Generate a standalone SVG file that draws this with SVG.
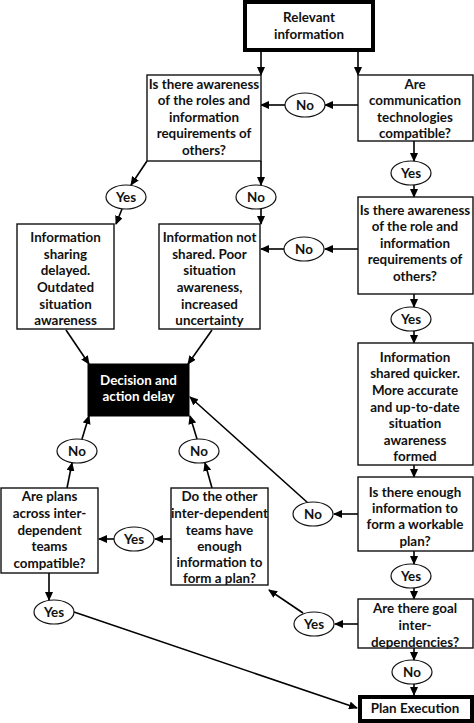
<svg xmlns="http://www.w3.org/2000/svg" width="474" height="723" viewBox="0 0 474 723">
<style>
.b{fill:#fff;stroke:#111;stroke-width:1.4}
.tb{fill:#fff;stroke:#000;stroke-width:4}
.e{fill:#fff;stroke:#111;stroke-width:1.2}
text{font-family:Lato,"Liberation Sans",sans-serif;font-weight:bold;font-size:13.4px;fill:#111;text-anchor:middle}
.w{fill:#fff}
.c line{stroke:#000;stroke-width:1.6;marker-end:url(#ah)}
</style>
<defs>
<marker id="ah" markerUnits="userSpaceOnUse" markerWidth="9" markerHeight="8" refX="8" refY="4" orient="auto">
<path d="M0,0 L9,4 L0,8 Z" fill="#000"/>
</marker>
</defs>
<rect width="474" height="723" fill="#fff"/>
<g class="c" id="connectors">
<line x1="261" y1="51" x2="261" y2="75"/>
<line x1="358" y1="51" x2="358" y2="75"/>
<line x1="358" y1="105" x2="325" y2="105"/>
<line x1="285" y1="105" x2="261" y2="105"/>
<line x1="414" y1="141" x2="414" y2="161"/>
<line x1="414" y1="185" x2="414" y2="197"/>
<line x1="147" y1="161" x2="131" y2="185"/>
<line x1="261" y1="161" x2="261" y2="185"/>
<line x1="122" y1="209" x2="116" y2="224"/>
<line x1="261" y1="209" x2="261" y2="224"/>
<line x1="358" y1="249" x2="325" y2="249"/>
<line x1="284" y1="249" x2="261" y2="249"/>
<line x1="414" y1="294" x2="414" y2="307"/>
<line x1="414" y1="331" x2="414" y2="343"/>
<line x1="66" y1="330" x2="89" y2="364"/>
<line x1="212" y1="330" x2="188" y2="364"/>
<line x1="82" y1="439" x2="89" y2="416"/>
<line x1="197" y1="439" x2="190" y2="416"/>
<line x1="308" y1="503" x2="190" y2="397"/>
<line x1="414" y1="465" x2="414" y2="477"/>
<line x1="358" y1="514" x2="334" y2="514"/>
<line x1="414" y1="551" x2="414" y2="564"/>
<line x1="414" y1="588" x2="414" y2="599"/>
<line x1="358" y1="624" x2="335" y2="624"/>
<line x1="303" y1="613" x2="269" y2="590"/>
<line x1="414" y1="648" x2="414" y2="660"/>
<line x1="414" y1="684" x2="414" y2="695"/>
<line x1="212" y1="488" x2="205" y2="463"/>
<line x1="67" y1="488" x2="72" y2="463"/>
<line x1="171" y1="539" x2="155" y2="539"/>
<line x1="114" y1="539" x2="99" y2="539"/>
<line x1="49" y1="573" x2="49" y2="600"/>
<line x1="74" y1="612" x2="357" y2="708"/>
</g>
<g id="n_relevant"><rect class="tb" x="245" y="2" width="128" height="48"/><text x="309" y="22">Relevant</text><text x="309" y="39">information</text></g>
<g id="n_aware1"><rect class="b" x="147" y="75" width="114" height="86"/><text x="204" y="89">Is there awareness</text><text x="204" y="105">of the roles and</text><text x="204" y="122">information</text><text x="204" y="138">requirements of</text><text x="204" y="155">others?</text></g>
<g id="n_comm"><rect class="b" x="358" y="75" width="115" height="66"/><text x="415" y="89">Are</text><text x="415" y="105">communication</text><text x="415" y="122">technologies</text><text x="415" y="138">compatible?</text></g>
<g id="e_no1"><ellipse class="e" cx="305" cy="105" rx="20" ry="12"/><text x="305" y="110">No</text></g>
<g id="e_yes1"><ellipse class="e" cx="411" cy="173" rx="20" ry="12"/><text x="411" y="178">Yes</text></g>
<g id="e_yes_l"><ellipse class="e" cx="126" cy="197" rx="20" ry="12"/><text x="126" y="202">Yes</text></g>
<g id="e_no_m"><ellipse class="e" cx="256" cy="197" rx="20" ry="12"/><text x="256" y="202">No</text></g>
<g id="n_aware2"><rect class="b" x="358" y="197" width="115" height="97"/><text x="415" y="215">Is there awareness</text><text x="415" y="231">of the role and</text><text x="415" y="248">information</text><text x="415" y="264">requirements of</text><text x="415" y="281">others?</text></g>
<g id="n_delayed"><rect class="b" x="17" y="224" width="97" height="105"/><text x="65.5" y="242">Information</text><text x="65.5" y="259">sharing</text><text x="65.5" y="275">delayed.</text><text x="65.5" y="292">Outdated</text><text x="65.5" y="309">situation</text><text x="65.5" y="325">awareness</text></g>
<g id="n_notshared"><rect class="b" x="159" y="224" width="101" height="105"/><text x="209.5" y="242">Information not</text><text x="209.5" y="259">shared. Poor</text><text x="209.5" y="275">situation</text><text x="209.5" y="292">awareness,</text><text x="209.5" y="309">increased</text><text x="209.5" y="325">uncertainty</text></g>
<g id="e_no2"><ellipse class="e" cx="304" cy="249" rx="20" ry="12"/><text x="304" y="254">No</text></g>
<g id="e_yes2"><ellipse class="e" cx="411" cy="319" rx="20" ry="12"/><text x="411" y="324">Yes</text></g>
<g id="n_quicker"><rect class="b" x="358" y="343" width="115" height="122"/><text x="415" y="362">Information</text><text x="415" y="378">shared quicker.</text><text x="415" y="395">More accurate</text><text x="415" y="412">and up-to-date</text><text x="415" y="428">situation</text><text x="415" y="445">awareness</text><text x="415" y="461">formed</text></g>
<g id="n_delay"><rect x="88" y="364" width="101" height="52" fill="#000" stroke="#000"/><text class="w" x="138.5" y="385">Decision and</text><text class="w" x="138.5" y="401">action delay</text></g>
<g id="e_no3"><ellipse class="e" cx="77" cy="451" rx="20" ry="12"/><text x="77" y="456">No</text></g>
<g id="e_no4"><ellipse class="e" cx="199" cy="451" rx="20" ry="12"/><text x="199" y="456">No</text></g>
<g id="n_enough"><rect class="b" x="358" y="477" width="115" height="74"/><text x="415" y="497">Is there enough</text><text x="415" y="513">information to</text><text x="415" y="529">form a workable</text><text x="415" y="546">plan?</text></g>
<g id="e_no5"><ellipse class="e" cx="313" cy="514" rx="20" ry="12"/><text x="313" y="519">No</text></g>
<g id="e_yes3"><ellipse class="e" cx="411" cy="576" rx="20" ry="12"/><text x="411" y="581">Yes</text></g>
<g id="n_goal"><rect class="b" x="358" y="599" width="115" height="49"/><text x="415" y="613">Are there goal</text><text x="415" y="630">inter-</text><text x="415" y="647">dependencies?</text></g>
<g id="e_yes4"><ellipse class="e" cx="314" cy="624" rx="20" ry="12"/><text x="314" y="629">Yes</text></g>
<g id="e_no6"><ellipse class="e" cx="412" cy="672" rx="20" ry="12"/><text x="412" y="677">No</text></g>
<g id="n_plan"><rect class="tb" x="360" y="697" width="112" height="24"/><text x="415" y="713">Plan Execution</text></g>
<g id="n_other"><rect class="b" x="171" y="488" width="97" height="97"/><text x="219.5" y="501">Do the other</text><text x="219.5" y="518">inter-dependent</text><text x="219.5" y="535">teams have</text><text x="219.5" y="551">enough</text><text x="219.5" y="567">information to</text><text x="219.5" y="583">form a plan?</text></g>
<g id="n_plans"><rect class="b" x="1" y="488" width="97" height="85"/><text x="49.5" y="501">Are plans</text><text x="49.5" y="518">across inter-</text><text x="49.5" y="535">dependent</text><text x="49.5" y="551">teams</text><text x="49.5" y="568">compatible?</text></g>
<g id="e_yes5"><ellipse class="e" cx="134" cy="539" rx="20" ry="12"/><text x="134" y="544">Yes</text></g>
<g id="e_yes6"><ellipse class="e" cx="54" cy="612" rx="20" ry="12"/><text x="54" y="617">Yes</text></g>
</svg>
